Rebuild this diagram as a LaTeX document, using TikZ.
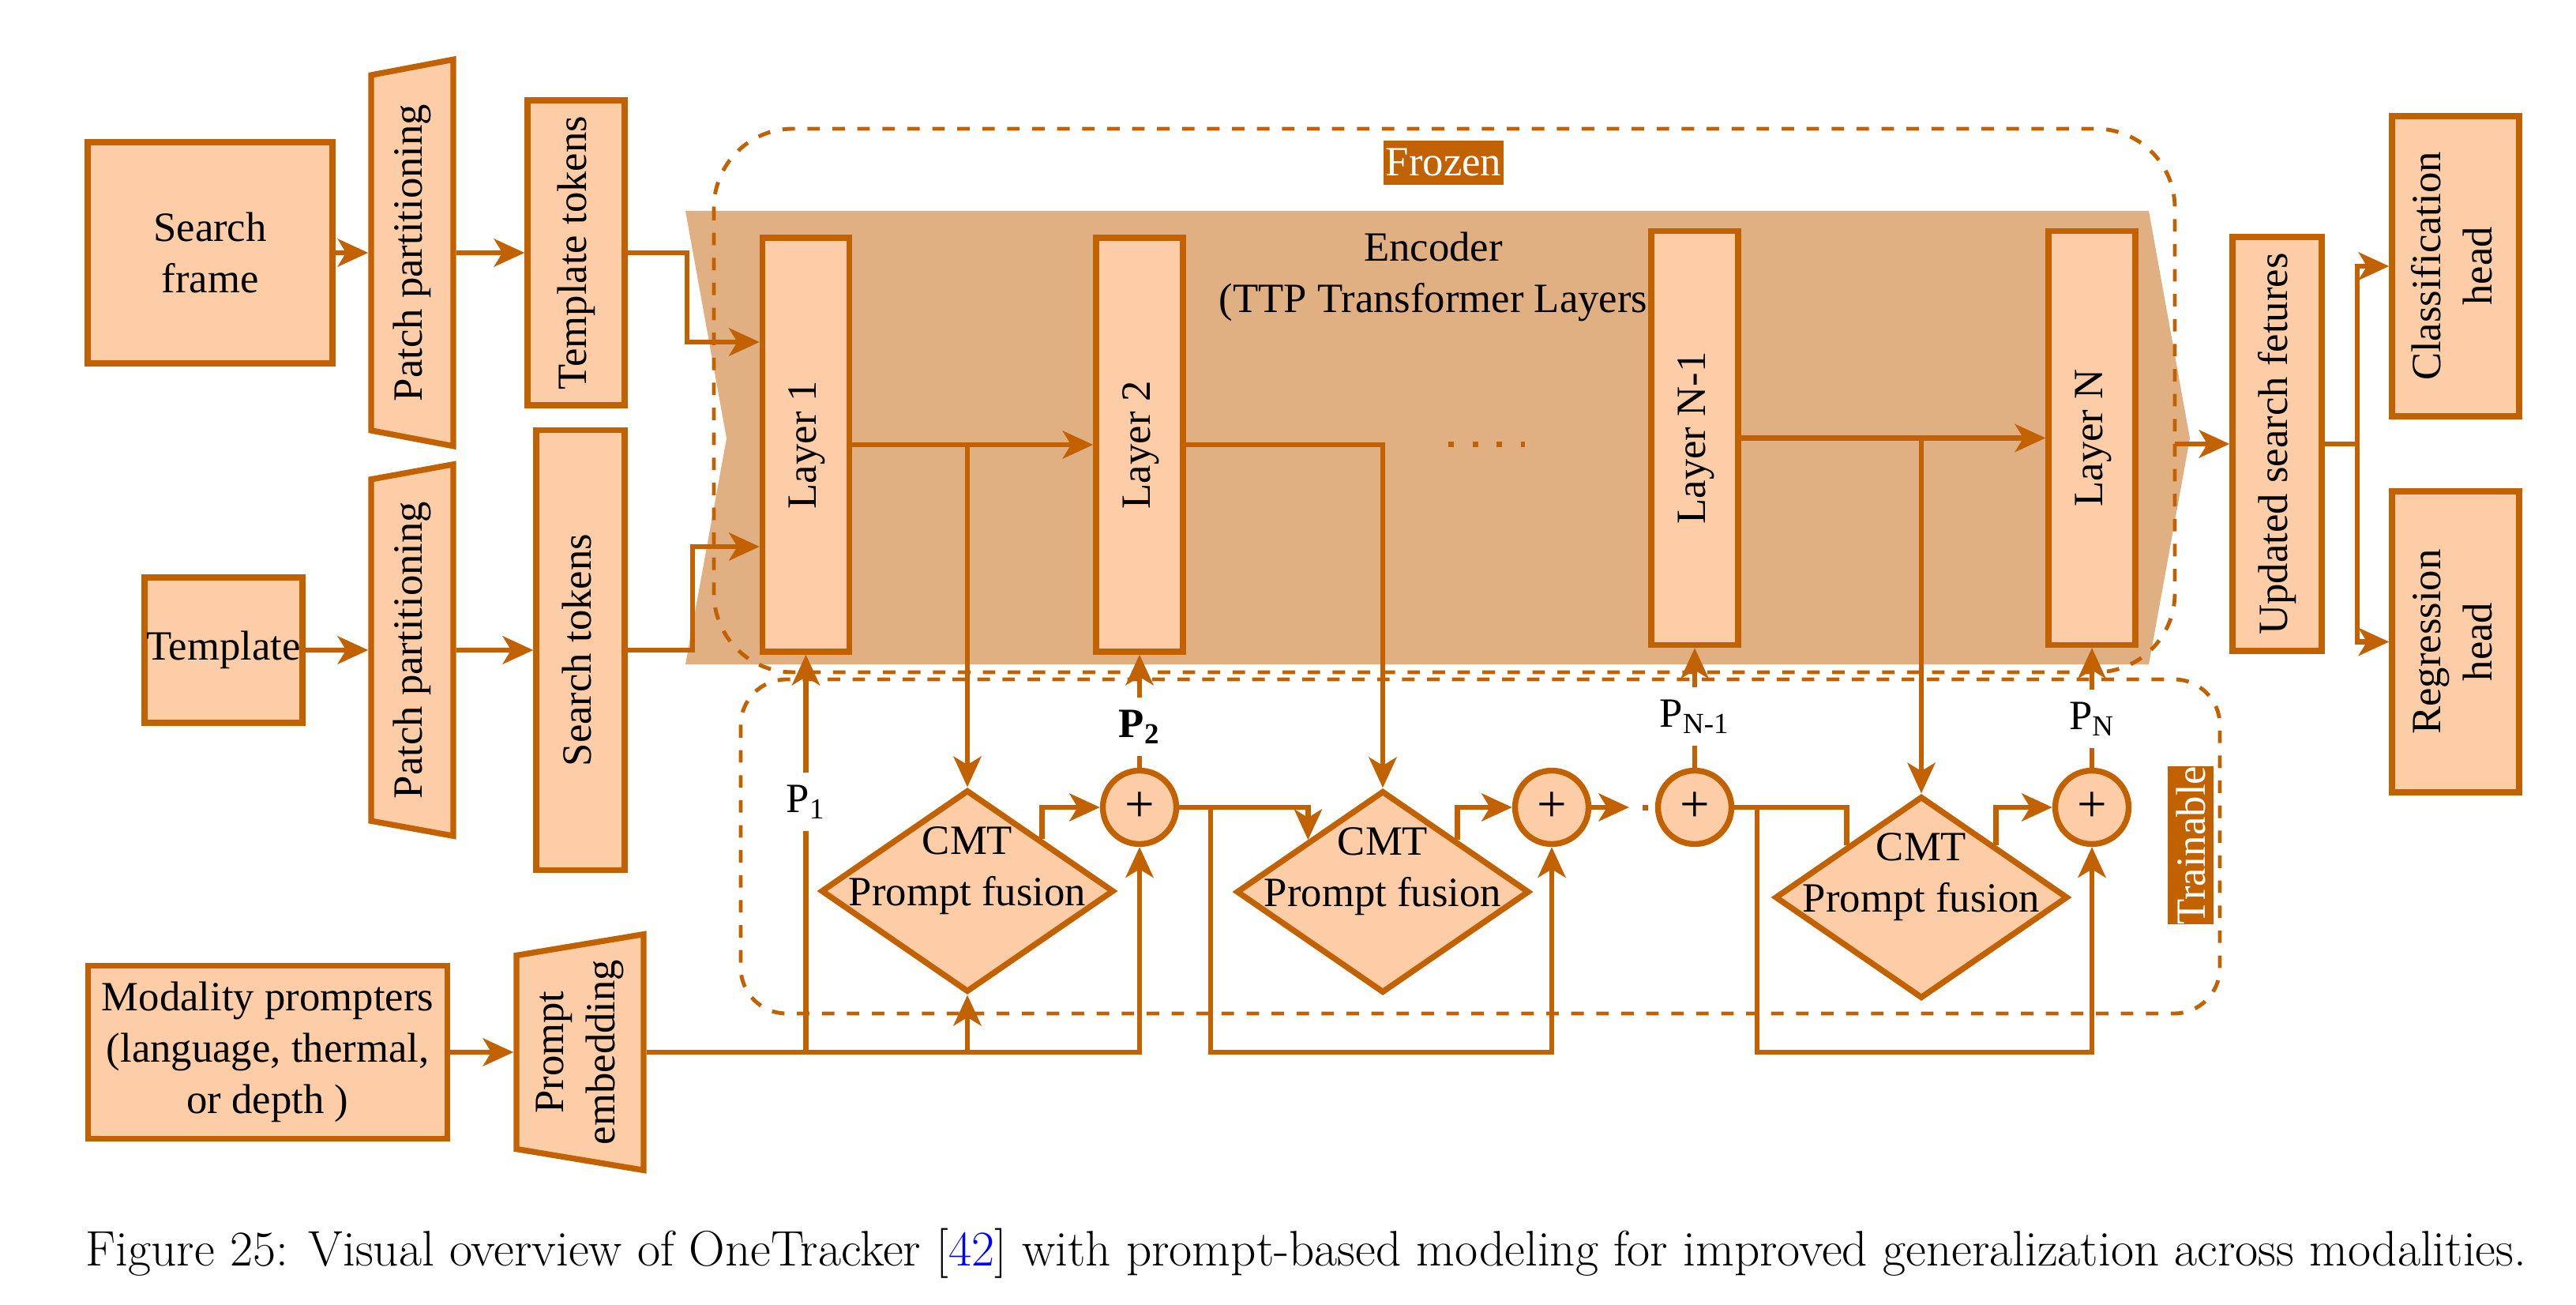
\documentclass[tikz,border=0pt]{standalone}
\usepackage{fontspec}
\usepackage{tikz}
\usetikzlibrary{shapes.geometric, arrows.meta, positioning}

\newfontfamily\diafont{Liberation Serif}
\definecolor{edge}{RGB}{194,97,0}
\definecolor{peach}{RGB}{253,205,167}
\definecolor{encshade}{RGB}{224,175,130}
% rotated text, one or more lines
\newcommand{\vtext}[1]{\rotatebox{90}{\begin{tabular}{@{}c@{}}#1\end{tabular}}}

\begin{document}
\begin{tikzpicture}[
        y=-1cm,
        % Node styles
        every node/.style={font=\diafont\fontsize{15pt}{18.5pt}\selectfont},
        block/.style={rectangle, draw=edge, fill=peach, line width=2.1pt,
                align=center, inner sep=0pt},
        layerbox/.style={block, minimum width=1.1cm, minimum height=5.24cm},
        patchbox/.style={trapezium, draw=edge, fill=peach, line width=2.1pt,
                rotate=90, trapezium stretches=true, inner sep=0pt, align=center},
        sumnode/.style={circle, draw=edge, fill=peach, line width=2.1pt,
                minimum size=0.93cm, inner sep=0pt, font=\diafont\fontsize{19pt}{19pt}\selectfont},
        fusion/.style={diamond, draw=edge, fill=peach, line width=2.1pt,
                minimum width=3.71cm, minimum height=2.56cm, inner sep=0pt},
        plabel/.style={inner sep=0.15cm},
        tagbox/.style={fill=edge, text=white, inner xsep=0.03cm, inner ysep=0.1cm},
        zone/.style={draw=edge, line width=1.4pt, dash pattern=on 4.5pt off 4.5pt},
        % Arrow style
        >={Stealth[length=11pt, width=10pt, inset=3pt]},
        link/.style={draw=edge, line width=1.8pt}
    ]
    \useasboundingbox (0,0) rectangle (32.62,16.52);

    %% ---- Encoder band and dashed groups ----
    \fill[encshade] (8.68,2.67) -- (27.21,2.67) -- (27.73,5.55) -- (27.21,8.41)
        -- (8.68,8.41) -- (9.20,5.55) -- cycle;
    \draw[zone, rounded corners=1cm] (9.04,1.63) rectangle (27.54,8.51);
    \draw[zone, rounded corners=0.58cm] (9.38,8.60) rectangle (28.11,12.83);
    \node[tagbox] (frz) at (18.28,2.06) {Frozen};
    \node[tagbox, inner xsep=0.1cm, inner ysep=0pt] (trn) at (27.74,10.70) {\rotatebox{90}{Trainable}};
    \node[align=center] (enc) at (18.15,3.50) {Encoder\\(TTP Transformer Layers};

    %% ---- Inputs ----
    \node[block, minimum width=3.1cm, minimum height=2.8cm] (sframe) at (2.66,3.20) {Search\\frame};
    \node[patchbox, trapezium angle=71, minimum width=4.9cm, minimum height=1.04cm] (pp1) at (5.22,3.20) {Patch partitioning};
    \node[block, minimum width=1.23cm, minimum height=3.86cm] (ttok) at (7.295,3.20) {\vtext{Template tokens}};

    \node[block, minimum width=2.0cm, minimum height=1.84cm] (tmpl) at (2.83,8.23) {Template};
    \node[patchbox, trapezium angle=71, minimum width=4.71cm, minimum height=1.04cm] (pp2) at (5.22,8.23) {Patch partitioning};
    \node[block, minimum width=1.12cm, minimum height=5.57cm] (stok) at (7.35,8.23) {\vtext{Search tokens}};

    \node[block, minimum width=4.55cm, minimum height=2.19cm] (modal) at (3.39,13.32) {Modality prompters\\(language, thermal,\\or depth )};
    \node[patchbox, trapezium angle=77, minimum width=2.99cm, minimum height=1.61cm] (pemb) at (7.345,13.32) {Prompt\\embedding};

    %% ---- Encoder layers ----
    \node[layerbox] (l1) at (10.205,5.63) {\vtext{Layer 1}};
    \node[layerbox] (l2) at (14.43,5.63) {\vtext{Layer 2}};
    \node[layerbox] (ln1) at (21.46,5.545) {\vtext{Layer N-1}};
    \node[layerbox] (ln) at (26.49,5.545) {\vtext{Layer N}};
    \draw[edge, line width=0.07cm, dash pattern=on 0.07cm off 0.235cm] (18.34,5.63) -- (19.31,5.63);

    %% ---- Heads ----
    \node[block, minimum width=1.13cm, minimum height=5.24cm] (usf) at (28.835,5.62) {\vtext{Updated search fetures}};
    \node[block, minimum width=1.61cm, minimum height=3.80cm] (cls) at (31.095,3.37) {\vtext{Classification\\head}};
    \node[block, minimum width=1.61cm, minimum height=3.81cm] (reg) at (31.095,8.125) {\vtext{Regression\\head}};

    %% ---- Prompt fusion stages ----
    \node[fusion] (d1) at (12.25,11.28) {};
    \node[fusion] (d2) at (17.51,11.29) {};
    \node[fusion] (d3) at (24.33,11.36) {};
    \node[align=center] (d1t) at ([yshift=0.26cm]d1.center) {CMT\\Prompt fusion};
    \node[align=center] (d2t) at ([yshift=0.26cm]d2.center) {CMT\\Prompt fusion};
    \node[align=center] (d3t) at ([yshift=0.26cm]d3.center) {CMT\\Prompt fusion};

    \node[sumnode] (c1) at (14.43,10.22) {+};
    \node[sumnode] (c2) at (19.65,10.22) {+};
    \node[sumnode] (c3) at (21.46,10.22) {+};
    \node[sumnode] (cN) at (26.49,10.22) {+};

    \node[plabel] (p1) at (10.205,10.15) {P\textsubscript{1}};
    \node[plabel] (p2) at (14.43,9.20) {\textbf{P\textsubscript{2}}};
    \node[plabel] (pn1) at (21.46,9.07) {P\textsubscript{N-1}};
    \node[plabel] (pn) at (26.49,9.10) {P\textsubscript{N}};

    %% ---- Input connectors ----
    \draw[link, ->] (sframe) -- (pp1);
    \draw[link, ->] (pp1) -- (ttok);
    \draw[link, ->] (ttok.east) -- (8.70,3.20) |- (l1.west |- 0,4.33);
    \draw[link, ->] (tmpl) -- (pp2);
    \draw[link, ->] (pp2) -- (stok);
    \draw[link, ->] (stok.east) -- (8.77,8.23) |- (l1.west |- 0,6.92);
    \draw[link, ->] (modal) -- (pemb);

    %% ---- Encoder connectors ----
    \draw[link, ->] (l1) -- (l2);
    \draw[link, ->] (d1.north |- l1) -- (d1);
    \draw[link, ->] (l2) -| (d2);
    \draw[link, ->] (ln1) -- (ln);
    \draw[link, ->] (d3.north |- ln1) -- (d3);

    \coordinate (fout) at (27.54,5.62);
    \coordinate (split) at (29.85,5.62);
    \draw[link, ->] (fout) -- (usf);
    \draw[link] (usf) -- (split);
    \draw[link, ->] (split) |- (cls);
    \draw[link, ->] (split) |- (reg);

    %% ---- Prompt connectors ----
    \draw[link, ->] (pemb) -| (c1);
    \draw[link] (l1.south |- pemb) -- (p1);
    \draw[link, ->] (p1) -- (l1);
    \draw[link, ->] (d1.south |- pemb) -- (d1);
    \draw[link, ->] (d1.north east) |- (c1);
    \draw[link] (c1) -- (p2);
    \draw[link, ->] (p2) -- (l2);

    \coordinate (by1) at (15.33,10.22);
    \draw[link, ->] (c1) -| (d2.north west);
    \draw[link, ->] (by1) |- (c2 |- pemb) -- (c2);
    \draw[link, ->] (d2.north east) |- (c2);
    \coordinate (cont) at (20.63,10.22);
    \draw[link, ->] (c2) -- (cont);
    \fill[edge] (20.80,10.185) rectangle (20.87,10.255);

    \coordinate (by3) at (22.25,10.22);
    \draw[link] (c3) -- (pn1);
    \draw[link, ->] (pn1) -- (ln1);
    \draw[link] (c3) -| (d3.north west);
    \draw[link, ->] (by3) |- (cN |- pemb) -- (cN);
    \draw[link, ->] (d3.north east) |- (cN);
    \draw[link] (cN) -- (pn);
    \draw[link, ->] (pn) -- (ln);

    %% ---- Caption ----
    \node[font=\normalfont\fontsize{18pt}{21pt}\selectfont, anchor=base west, inner sep=0pt] (cap)
        at (1.08,16.02) {Figure 25: Visual overview of OneTracker [\textcolor{blue}{42}] with prompt-based modeling for improved generalization across modalities.};

\end{tikzpicture}
\end{document}
